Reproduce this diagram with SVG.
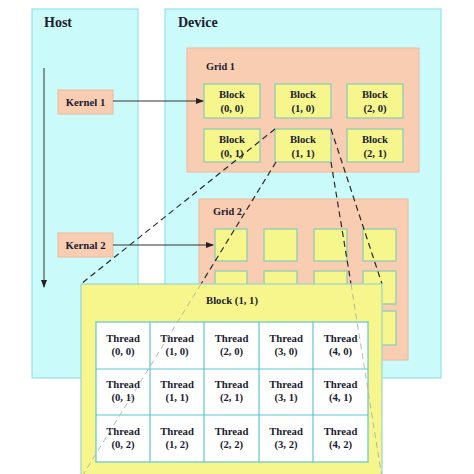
<svg xmlns="http://www.w3.org/2000/svg" width="474" height="474" viewBox="0 0 474 474">
<defs>
<style>
text{font-family:"Liberation Serif","DejaVu Serif",serif;font-weight:bold;fill:#1c1c30;}
.panel{fill:#cbfafa;stroke:#94e2ea;stroke-width:1.2;}
.grid{fill:#f9cdb2;stroke:#f0b89a;stroke-width:1;}
.blk{fill:#f6f68c;stroke:#9ccfb0;stroke-width:1.5;}
.kern{fill:#f9cdb2;stroke:#eeb69a;stroke-width:1;}
.big{fill:#f6f68c;stroke:#9cd8c8;stroke-width:1.2;}
.cell{fill:#ffffff;stroke:#5ec6d2;stroke-width:1.2;}
.t14{font-size:14px;}
.t11{font-size:10.7px;text-anchor:middle;}
.t10{font-size:10.3px;}
.dash{stroke:#2a2a2a;stroke-width:1.2;stroke-dasharray:6,4;fill:none;}
.dashl{stroke:#b8b8a8;stroke-width:1;stroke-dasharray:6,4;fill:none;}
.arr{stroke:#333;stroke-width:1;fill:none;marker-end:url(#ah);}
</style>
<marker id="ah" markerWidth="8" markerHeight="8" refX="7" refY="4" orient="auto" markerUnits="userSpaceOnUse">
<path d="M0,1 L8,4 L0,7 Z" fill="#222"/>
</marker>
</defs>
<rect width="474" height="474" fill="#ffffff"/>
<g id="host">
<rect class="panel" x="32" y="9" width="106" height="369"/>
<text class="t14" x="44" y="27">Host</text>
</g>
<g id="device">
<rect class="panel" x="165" y="9" width="276" height="369"/>
<text class="t14" x="178" y="27">Device</text>
</g>
<g id="grid1">
<rect class="grid" x="187" y="48" width="232" height="124"/>
<text class="t10" x="206" y="70">Grid 1</text>
</g>
<g id="block00"><rect class="blk" x="204" y="84" width="56" height="34"/><text class="t11" x="232" y="98">Block</text><text class="t11" x="232" y="112">(0, 0)</text></g>
<g id="block10"><rect class="blk" x="275" y="84" width="56" height="34"/><text class="t11" x="303" y="98">Block</text><text class="t11" x="303" y="112">(1, 0)</text></g>
<g id="block20"><rect class="blk" x="347" y="84" width="56" height="34"/><text class="t11" x="375" y="98">Block</text><text class="t11" x="375" y="112">(2, 0)</text></g>
<g id="block01"><rect class="blk" x="204" y="129" width="56" height="33"/><text class="t11" x="232" y="143">Block</text><text class="t11" x="232" y="157">(0, 1)</text></g>
<g id="block11"><rect class="blk" x="275" y="129" width="56" height="33"/><text class="t11" x="303" y="143">Block</text><text class="t11" x="303" y="157">(1, 1)</text></g>
<g id="block21"><rect class="blk" x="347" y="129" width="56" height="33"/><text class="t11" x="375" y="143">Block</text><text class="t11" x="375" y="157">(2, 1)</text></g>
<g id="grid2">
<rect class="grid" x="199" y="199" width="209" height="161"/>
<text class="t10" x="213" y="215">Grid 2</text>
<rect class="blk" x="215" y="229" width="32" height="32"/>
<rect class="blk" x="264" y="229" width="33" height="32"/>
<rect class="blk" x="314" y="229" width="33" height="32"/>
<rect class="blk" x="363" y="229" width="33" height="32"/>
<rect class="blk" x="215" y="271" width="32" height="33"/>
<rect class="blk" x="264" y="271" width="33" height="33"/>
<rect class="blk" x="314" y="271" width="33" height="33"/>
<rect class="blk" x="363" y="271" width="33" height="33"/>
<rect class="blk" x="215" y="311" width="32" height="34"/>
<rect class="blk" x="264" y="311" width="33" height="34"/>
<rect class="blk" x="314" y="311" width="33" height="34"/>
<rect class="blk" x="363" y="311" width="33" height="34"/>
</g>
<g id="kernel1"><rect class="kern" x="58" y="90" width="55" height="24"/><text class="t11" x="85.5" y="106">Kernel 1</text></g>
<g id="kernel2"><rect class="kern" x="58" y="233" width="55" height="24"/><text class="t11" x="85.5" y="249">Kernal 2</text></g>
<g id="connectors">
<line class="arr" x1="44" y1="68" x2="44" y2="287"/>
<line class="arr" x1="113" y1="101" x2="203" y2="101"/>
<line class="arr" x1="113" y1="245" x2="213" y2="245"/>
<line class="dash" x1="275" y1="129" x2="81" y2="284"/>
<line class="dash" x1="331" y1="129" x2="382" y2="284"/>
<line class="dash" x1="276" y1="162" x2="201" y2="284"/>
<line class="dash" x1="331" y1="162" x2="351" y2="284"/>
</g>
<g id="block11big">
<rect class="big" x="81" y="284" width="301" height="200"/>
<text class="t11" x="232" y="304">Block (1, 1)</text>
</g>
<g id="threads">
<rect class="cell" x="96" y="322" width="272" height="140"/>
<line class="cell" x1="150" y1="322" x2="150" y2="462"/>
<line class="cell" x1="204" y1="322" x2="204" y2="462"/>
<line class="cell" x1="259" y1="322" x2="259" y2="462"/>
<line class="cell" x1="313" y1="322" x2="313" y2="462"/>
<line class="cell" x1="96" y1="369" x2="368" y2="369"/>
<line class="cell" x1="96" y1="415" x2="368" y2="415"/>
<g class="t11">
<text class="t11" x="123" y="342">Thread</text><text class="t11" x="123" y="355">(0, 0)</text>
<text class="t11" x="177" y="342">Thread</text><text class="t11" x="177" y="355">(1, 0)</text>
<text class="t11" x="231.5" y="342">Thread</text><text class="t11" x="231.5" y="355">(2, 0)</text>
<text class="t11" x="286" y="342">Thread</text><text class="t11" x="286" y="355">(3, 0)</text>
<text class="t11" x="340.5" y="342">Thread</text><text class="t11" x="340.5" y="355">(4, 0)</text>
<text class="t11" x="123" y="388">Thread</text><text class="t11" x="123" y="401">(0, 1)</text>
<text class="t11" x="177" y="388">Thread</text><text class="t11" x="177" y="401">(1, 1)</text>
<text class="t11" x="231.5" y="388">Thread</text><text class="t11" x="231.5" y="401">(2, 1)</text>
<text class="t11" x="286" y="388">Thread</text><text class="t11" x="286" y="401">(3, 1)</text>
<text class="t11" x="340.5" y="388">Thread</text><text class="t11" x="340.5" y="401">(4, 1)</text>
<text class="t11" x="123" y="435">Thread</text><text class="t11" x="123" y="448">(0, 2)</text>
<text class="t11" x="177" y="435">Thread</text><text class="t11" x="177" y="448">(1, 2)</text>
<text class="t11" x="231.5" y="435">Thread</text><text class="t11" x="231.5" y="448">(2, 2)</text>
<text class="t11" x="286" y="435">Thread</text><text class="t11" x="286" y="448">(3, 2)</text>
<text class="t11" x="340.5" y="435">Thread</text><text class="t11" x="340.5" y="448">(4, 2)</text>
</g>
</g>
<g id="connectors-faint">
<line class="dashl" x1="201" y1="284" x2="81" y2="478"/>
<line class="dashl" x1="351" y1="284" x2="382" y2="478"/>
</g>
</svg>
